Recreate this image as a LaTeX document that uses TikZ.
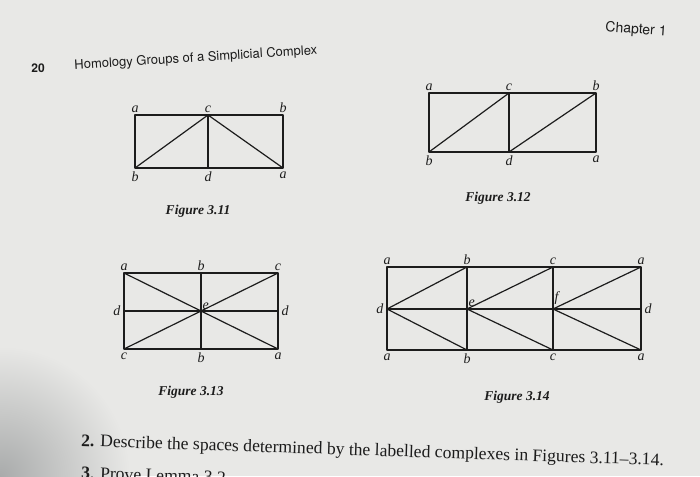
\documentclass[tikz,border=0pt]{standalone}
\usepackage{fontspec}
\setmainfont{Liberation Serif}
\setsansfont{TeX Gyre Heros}
\usetikzlibrary{positioning}
\definecolor{Paper}{HTML}{E8E8E6}
\definecolor{Shadow}{HTML}{A9ABAB}
\definecolor{Ink}{HTML}{1C1C1C}

\begin{document}
\begin{tikzpicture}[x=1pt, y=-1pt, font=\itshape\fontsize{14}{16}\selectfont, node distance=2pt]
\tikzset{edge/.style={draw=Ink, line width=1.2pt, line join=round}, lbl/.style={text=Ink, inner sep=0.5pt}, figcap/.style={text=Ink, font=\bfseries\itshape\fontsize{13.5}{16}\selectfont}, head/.style={text=Ink, font=\sffamily\fontsize{13}{15}\selectfont}, exer/.style={text=Ink, inner sep=0pt, anchor=west, rotate=-1.9, font=\fontsize{17.6}{20}\selectfont}}
\useasboundingbox (0,0) rectangle (700,476);
\begin{scope}
\clip (0,0) rectangle (700,476);
\fill[Paper] (0,0) rectangle (700,476);
\shade[inner color=Shadow, outer color=Paper] (0,476) circle (130);
\end{scope}
% running head
\node[head, font=\sffamily\bfseries\fontsize{12}{14}\selectfont] (pg) at (38,68) {20};
\node[head, anchor=west, rotate=3.5] (title) at (71,66) {Homology Groups of a Simplicial Complex};
\node[head, font=\sffamily\fontsize{14}{16}\selectfont, rotate=-4] (chap) at (636,30) {Chapter 1};
% Figure 3.11
\coordinate (p1a) at (135,115); \coordinate (p1c) at (208,115); \coordinate (p1b) at (283,115);
\coordinate (q1b) at (135,168); \coordinate (q1d) at (208,168); \coordinate (q1a) at (283,168);
\draw[edge] (p1a) -- (p1b) -- (q1a) -- (q1b) -- cycle;
\foreach \x/\y in {q1b/p1c,p1c/q1a,p1c/q1d} \draw[edge] (\x) -- (\y);
\foreach \v/\t in {p1a/a,p1c/c,p1b/b} \node[lbl, above=of \v] (l\v) {\t};
\foreach \v/\t in {q1b/b,q1d/d,q1a/a} \node[lbl, below=3pt of \v] (l\v) {\t};
\node[figcap] (cap11) at (198,211) {Figure 3.11};
% Figure 3.12
\coordinate (p2a) at (429,93); \coordinate (p2c) at (509,93); \coordinate (p2b) at (596,93);
\coordinate (q2b) at (429,152); \coordinate (q2d) at (509,152); \coordinate (q2a) at (596,152);
\draw[edge] (p2a) -- (p2b) -- (q2a) -- (q2b) -- cycle;
\foreach \x/\y in {q2b/p2c,p2c/q2d,q2d/p2b} \draw[edge] (\x) -- (\y);
\foreach \v/\t in {p2a/a,p2c/c,p2b/b} \node[lbl, above=of \v] (l\v) {\t};
\foreach \v/\t in {q2b/b,q2d/d,q2a/a} \node[lbl, below=3pt of \v] (l\v) {\t};
\node[figcap] (cap12) at (498,198) {Figure 3.12};
% Figure 3.13
\coordinate (p3a) at (124,273); \coordinate (p3b) at (201,273); \coordinate (p3c) at (278,273);
\coordinate (m3d) at (124,311); \coordinate (m3e) at (201,311); \coordinate (m3f) at (278,311);
\coordinate (q3c) at (124,349); \coordinate (q3b) at (201,349); \coordinate (q3a) at (278,349);
\draw[edge] (p3a) -- (p3c) -- (q3a) -- (q3c) -- cycle;
\foreach \x/\y in {m3d/m3f,p3b/q3b,p3a/q3a,p3c/q3c} \draw[edge] (\x) -- (\y);
\foreach \v/\t in {p3a/a,p3b/b,p3c/c} \node[lbl, above=of \v] (l\v) {\t};
\foreach \v/\t in {q3c/c,q3b/b,q3a/a} \node[lbl, below=3pt of \v] (l\v) {\t};
\node[lbl, left=3pt of m3d] (lm3d) {d};
\node[lbl, right=3pt of m3f] (lm3f) {d};
\node[lbl, above right=1pt and 1pt of m3e] (lm3e) {e};
\node[figcap] (cap13) at (191,392) {Figure 3.13};
% Figure 3.14
\coordinate (p4a) at (387,267); \coordinate (p4b) at (467,267); \coordinate (p4c) at (553,267); \coordinate (p4z) at (641,267);
\coordinate (m4d) at (387,309); \coordinate (m4e) at (467,309); \coordinate (m4f) at (553,309); \coordinate (m4z) at (641,309);
\coordinate (q4a) at (387,350); \coordinate (q4b) at (467,350); \coordinate (q4c) at (553,350); \coordinate (q4z) at (641,350);
\draw[edge] (p4a) -- (p4z) -- (q4z) -- (q4a) -- cycle;
\foreach \x/\y in {m4d/m4z,p4b/q4b,p4c/q4c,m4d/p4b,m4d/q4b,m4e/p4c,m4e/q4c,m4f/p4z,m4f/q4z} \draw[edge] (\x) -- (\y);
\foreach \v/\t in {p4a/a,p4b/b,p4c/c,p4z/a} \node[lbl, above=of \v] (l\v) {\t};
\foreach \v/\t in {q4a/a,q4b/b,q4c/c,q4z/a} \node[lbl, below=3pt of \v] (l\v) {\t};
\node[lbl, left=3pt of m4d] (lm4d) {d};
\node[lbl, right=3pt of m4z] (lm4z) {d};
\node[lbl, above right=2pt and 1pt of m4e] (lm4e) {e};
\node[lbl, above right=4pt and 1pt of m4f] (lm4f) {f};
\node[figcap] (cap14) at (517,397) {Figure 3.14};
% exercises
\node[exer] (ex2) at (81,442) {\textbf{2.} Describe the spaces determined by the labelled complexes in Figures 3.11--3.14.};
\node[exer] (ex3) at (81,473) {\textbf{3.} Prove Lemma 3.2};
\end{tikzpicture}
\end{document}
